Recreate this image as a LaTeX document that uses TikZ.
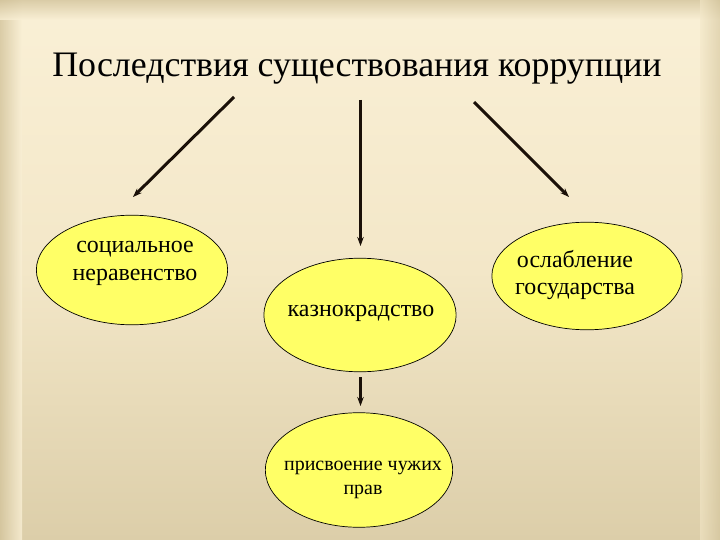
\documentclass[tikz,border=0pt]{standalone}
\usepackage{fontspec}
\setmainfont{Liberation Serif}
\usetikzlibrary{arrows.meta,shapes.geometric}
\definecolor{bgtop}{HTML}{FAF0D6}
\definecolor{bgmid}{HTML}{F3E7C8}
\definecolor{bgbot}{HTML}{DCCEA9}
\definecolor{edge}{HTML}{D3C49C}
\definecolor{ellfill}{HTML}{FFFF66}
\definecolor{ink}{HTML}{1A1008}
\tikzset{
  bubble/.style={ellipse, draw=black, line width=0.7bp, fill=ellfill, inner sep=0pt},
  bigtext/.style={font=\fontsize{24}{28}\selectfont, align=center, inner sep=0pt},
  smalltext/.style={font=\fontsize{20}{24}\selectfont, align=center, inner sep=0pt},
  titletext/.style={font=\fontsize{36}{40}\selectfont, anchor=base},
  conn/.style={draw=ink, line width=3bp, -{Stealth[length=9bp,width=6.5bp]}},
}
\begin{document}
\begin{tikzpicture}[x=1bp,y=-1bp]
  % background
  \useasboundingbox (0,0) rectangle (720,540);
  \shade[top color=bgtop, bottom color=bgbot, middle color=bgmid] (0,0) rectangle (720,540);
  \shade[left color=edge, right color=bgtop, opacity=0.8] (0,0) rectangle (22,540);
  \shade[top color=edge, bottom color=bgtop, opacity=0.8] (0,0) rectangle (720,20);
  \shade[right color=edge, left color=bgmid, opacity=0.6] (700,0) rectangle (720,540);
  % title
  \node (title) [titletext] at (357,77) {Последствия существования коррупции};
  % ellipses
  \node (soc) [bubble, minimum width=192, minimum height=110] at (132,270) {};
  \node (soct) [bigtext] at (135,263) {социальное\\неравенство};
  \node (kaz) [bubble, minimum width=193, minimum height=114] at (360,315) {};
  \node (kazt) [bigtext] at (361,313) {казнокрадство};
  \node (osl) [bubble, minimum width=191, minimum height=108] at (587,276) {};
  \node (oslt) [bigtext] at (575,275) {ослабление\\государства};
  \node (pri) [bubble, minimum width=188, minimum height=115] at (359,470) {};
  \node (prit) [smalltext] at (363,480) {присвоение чужих\\прав};
  % connector ends
  \coordinate (a1) at (234,97);  \coordinate (b1) at (133,197);
  \coordinate (a2) at (360.5,100); \coordinate (b2) at (360.5,246);
  \coordinate (a3) at (474,102); \coordinate (b3) at (569,197);
  \coordinate (a4) at (360.5,377); \coordinate (b4) at (360.5,406);
  \draw[conn] (a1) -- (b1);
  \draw[conn] (a2) -- (b2);
  \draw[conn] (a3) -- (b3);
  \draw[conn] (a4) -- (b4);
\end{tikzpicture}
\end{document}
